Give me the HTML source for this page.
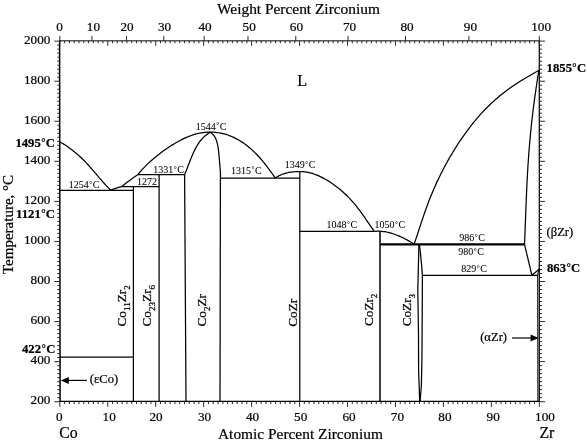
<!DOCTYPE html>
<html><head><meta charset="utf-8"><title>Co-Zr phase diagram</title>
<style>html,body{margin:0;padding:0;background:#fff;}body{width:587px;height:443px;overflow:hidden;}svg{display:block;}</style>
</head><body>
<svg width="587" height="443" viewBox="0 0 587 443"><g stroke="#000" fill="none" stroke-linecap="butt"><path d="M59.6,40.35L60.1,402" stroke-width="1.5"/><path d="M60,40.85H539.3" stroke-width="1.0"/><path d="M539.3,40.35V402" stroke-width="1.25"/><path d="M60,401.4H539.3" stroke-width="1.2"/><path d="M54.3,401.69H60 M539.3,401.69H545 M57.2,397.68H60 M539.3,397.68H542.1 M57.2,393.68H60 M539.3,393.68H542.1 M57.2,389.67H60 M539.3,389.67H542.1 M57.2,385.67H60 M539.3,385.67H542.1 M57.2,381.66H60 M539.3,381.66H542.1 M57.2,377.65H60 M539.3,377.65H542.1 M57.2,373.65H60 M539.3,373.65H542.1 M57.2,369.64H60 M539.3,369.64H542.1 M57.2,365.64H60 M539.3,365.64H542.1 M54.3,361.63H60 M539.3,361.63H545 M57.2,357.62H60 M539.3,357.62H542.1 M57.2,353.62H60 M539.3,353.62H542.1 M57.2,349.61H60 M539.3,349.61H542.1 M57.2,345.61H60 M539.3,345.61H542.1 M57.2,341.6H60 M539.3,341.6H542.1 M57.2,337.59H60 M539.3,337.59H542.1 M57.2,333.59H60 M539.3,333.59H542.1 M57.2,329.58H60 M539.3,329.58H542.1 M57.2,325.58H60 M539.3,325.58H542.1 M54.3,321.57H60 M539.3,321.57H545 M57.2,317.56H60 M539.3,317.56H542.1 M57.2,313.56H60 M539.3,313.56H542.1 M57.2,309.55H60 M539.3,309.55H542.1 M57.2,305.55H60 M539.3,305.55H542.1 M57.2,301.54H60 M539.3,301.54H542.1 M57.2,297.53H60 M539.3,297.53H542.1 M57.2,293.53H60 M539.3,293.53H542.1 M57.2,289.52H60 M539.3,289.52H542.1 M57.2,285.52H60 M539.3,285.52H542.1 M54.3,281.51H60 M539.3,281.51H545 M57.2,277.5H60 M539.3,277.5H542.1 M57.2,273.5H60 M539.3,273.5H542.1 M57.2,269.49H60 M539.3,269.49H542.1 M57.2,265.49H60 M539.3,265.49H542.1 M57.2,261.48H60 M539.3,261.48H542.1 M57.2,257.47H60 M539.3,257.47H542.1 M57.2,253.47H60 M539.3,253.47H542.1 M57.2,249.46H60 M539.3,249.46H542.1 M57.2,245.46H60 M539.3,245.46H542.1 M54.3,241.45H60 M539.3,241.45H545 M57.2,237.44H60 M539.3,237.44H542.1 M57.2,233.44H60 M539.3,233.44H542.1 M57.2,229.43H60 M539.3,229.43H542.1 M57.2,225.43H60 M539.3,225.43H542.1 M57.2,221.42H60 M539.3,221.42H542.1 M57.2,217.41H60 M539.3,217.41H542.1 M57.2,213.41H60 M539.3,213.41H542.1 M57.2,209.4H60 M539.3,209.4H542.1 M57.2,205.4H60 M539.3,205.4H542.1 M54.3,201.39H60 M539.3,201.39H545 M57.2,197.38H60 M539.3,197.38H542.1 M57.2,193.38H60 M539.3,193.38H542.1 M57.2,189.37H60 M539.3,189.37H542.1 M57.2,185.37H60 M539.3,185.37H542.1 M57.2,181.36H60 M539.3,181.36H542.1 M57.2,177.35H60 M539.3,177.35H542.1 M57.2,173.35H60 M539.3,173.35H542.1 M57.2,169.34H60 M539.3,169.34H542.1 M57.2,165.34H60 M539.3,165.34H542.1 M54.3,161.33H60 M539.3,161.33H545 M57.2,157.32H60 M539.3,157.32H542.1 M57.2,153.32H60 M539.3,153.32H542.1 M57.2,149.31H60 M539.3,149.31H542.1 M57.2,145.31H60 M539.3,145.31H542.1 M57.2,141.3H60 M539.3,141.3H542.1 M57.2,137.29H60 M539.3,137.29H542.1 M57.2,133.29H60 M539.3,133.29H542.1 M57.2,129.28H60 M539.3,129.28H542.1 M57.2,125.28H60 M539.3,125.28H542.1 M54.3,121.27H60 M539.3,121.27H545 M57.2,117.26H60 M539.3,117.26H542.1 M57.2,113.26H60 M539.3,113.26H542.1 M57.2,109.25H60 M539.3,109.25H542.1 M57.2,105.25H60 M539.3,105.25H542.1 M57.2,101.24H60 M539.3,101.24H542.1 M57.2,97.23H60 M539.3,97.23H542.1 M57.2,93.23H60 M539.3,93.23H542.1 M57.2,89.22H60 M539.3,89.22H542.1 M57.2,85.22H60 M539.3,85.22H542.1 M54.3,81.21H60 M539.3,81.21H545 M57.2,77.2H60 M539.3,77.2H542.1 M57.2,73.2H60 M539.3,73.2H542.1 M57.2,69.19H60 M539.3,69.19H542.1 M57.2,65.19H60 M539.3,65.19H542.1 M57.2,61.18H60 M539.3,61.18H542.1 M57.2,57.17H60 M539.3,57.17H542.1 M57.2,53.17H60 M539.3,53.17H542.1 M57.2,49.16H60 M539.3,49.16H542.1 M57.2,45.16H60 M539.3,45.16H542.1 M54.3,41.15H60 M539.3,41.15H545 M59.8,401.4V406.9 M59.8,40.85V45.85 M64.59,401.4V404.1 M64.59,40.85V43.25 M69.39,401.4V404.1 M69.39,40.85V43.25 M74.19,401.4V404.1 M74.19,40.85V43.25 M78.98,401.4V404.1 M78.98,40.85V43.25 M83.78,401.4V404.1 M83.78,40.85V43.25 M88.57,401.4V404.1 M88.57,40.85V43.25 M93.36,401.4V404.1 M93.36,40.85V43.25 M98.16,401.4V404.1 M98.16,40.85V43.25 M102.95,401.4V404.1 M102.95,40.85V43.25 M107.75,401.4V406.9 M107.75,40.85V45.85 M112.54,401.4V404.1 M112.54,40.85V43.25 M117.34,401.4V404.1 M117.34,40.85V43.25 M122.13,401.4V404.1 M122.13,40.85V43.25 M126.93,401.4V404.1 M126.93,40.85V43.25 M131.72,401.4V404.1 M131.72,40.85V43.25 M136.52,401.4V404.1 M136.52,40.85V43.25 M141.31,401.4V404.1 M141.31,40.85V43.25 M146.11,401.4V404.1 M146.11,40.85V43.25 M150.91,401.4V404.1 M150.91,40.85V43.25 M155.7,401.4V406.9 M155.7,40.85V45.85 M160.5,401.4V404.1 M160.5,40.85V43.25 M165.29,401.4V404.1 M165.29,40.85V43.25 M170.08,401.4V404.1 M170.08,40.85V43.25 M174.88,401.4V404.1 M174.88,40.85V43.25 M179.68,401.4V404.1 M179.68,40.85V43.25 M184.47,401.4V404.1 M184.47,40.85V43.25 M189.26,401.4V404.1 M189.26,40.85V43.25 M194.06,401.4V404.1 M194.06,40.85V43.25 M198.86,401.4V404.1 M198.86,40.85V43.25 M203.65,401.4V406.9 M203.65,40.85V45.85 M208.44,401.4V404.1 M208.44,40.85V43.25 M213.24,401.4V404.1 M213.24,40.85V43.25 M218.03,401.4V404.1 M218.03,40.85V43.25 M222.83,401.4V404.1 M222.83,40.85V43.25 M227.62,401.4V404.1 M227.62,40.85V43.25 M232.42,401.4V404.1 M232.42,40.85V43.25 M237.21,401.4V404.1 M237.21,40.85V43.25 M242.01,401.4V404.1 M242.01,40.85V43.25 M246.81,401.4V404.1 M246.81,40.85V43.25 M251.6,401.4V406.9 M251.6,40.85V45.85 M256.39,401.4V404.1 M256.39,40.85V43.25 M261.19,401.4V404.1 M261.19,40.85V43.25 M265.99,401.4V404.1 M265.99,40.85V43.25 M270.78,401.4V404.1 M270.78,40.85V43.25 M275.57,401.4V404.1 M275.57,40.85V43.25 M280.37,401.4V404.1 M280.37,40.85V43.25 M285.17,401.4V404.1 M285.17,40.85V43.25 M289.96,401.4V404.1 M289.96,40.85V43.25 M294.75,401.4V404.1 M294.75,40.85V43.25 M299.55,401.4V406.9 M299.55,40.85V45.85 M304.34,401.4V404.1 M304.34,40.85V43.25 M309.14,401.4V404.1 M309.14,40.85V43.25 M313.94,401.4V404.1 M313.94,40.85V43.25 M318.73,401.4V404.1 M318.73,40.85V43.25 M323.53,401.4V404.1 M323.53,40.85V43.25 M328.32,401.4V404.1 M328.32,40.85V43.25 M333.12,401.4V404.1 M333.12,40.85V43.25 M337.91,401.4V404.1 M337.91,40.85V43.25 M342.7,401.4V404.1 M342.7,40.85V43.25 M347.5,401.4V406.9 M347.5,40.85V45.85 M352.3,401.4V404.1 M352.3,40.85V43.25 M357.09,401.4V404.1 M357.09,40.85V43.25 M361.88,401.4V404.1 M361.88,40.85V43.25 M366.68,401.4V404.1 M366.68,40.85V43.25 M371.48,401.4V404.1 M371.48,40.85V43.25 M376.27,401.4V404.1 M376.27,40.85V43.25 M381.06,401.4V404.1 M381.06,40.85V43.25 M385.86,401.4V404.1 M385.86,40.85V43.25 M390.66,401.4V404.1 M390.66,40.85V43.25 M395.45,401.4V406.9 M395.45,40.85V45.85 M400.25,401.4V404.1 M400.25,40.85V43.25 M405.04,401.4V404.1 M405.04,40.85V43.25 M409.83,401.4V404.1 M409.83,40.85V43.25 M414.63,401.4V404.1 M414.63,40.85V43.25 M419.43,401.4V404.1 M419.43,40.85V43.25 M424.22,401.4V404.1 M424.22,40.85V43.25 M429.01,401.4V404.1 M429.01,40.85V43.25 M433.81,401.4V404.1 M433.81,40.85V43.25 M438.61,401.4V404.1 M438.61,40.85V43.25 M443.4,401.4V406.9 M443.4,40.85V45.85 M448.19,401.4V404.1 M448.19,40.85V43.25 M452.99,401.4V404.1 M452.99,40.85V43.25 M457.79,401.4V404.1 M457.79,40.85V43.25 M462.58,401.4V404.1 M462.58,40.85V43.25 M467.38,401.4V404.1 M467.38,40.85V43.25 M472.17,401.4V404.1 M472.17,40.85V43.25 M476.97,401.4V404.1 M476.97,40.85V43.25 M481.76,401.4V404.1 M481.76,40.85V43.25 M486.56,401.4V404.1 M486.56,40.85V43.25 M491.35,401.4V406.9 M491.35,40.85V45.85 M496.14,401.4V404.1 M496.14,40.85V43.25 M500.94,401.4V404.1 M500.94,40.85V43.25 M505.74,401.4V404.1 M505.74,40.85V43.25 M510.53,401.4V404.1 M510.53,40.85V43.25 M515.32,401.4V404.1 M515.32,40.85V43.25 M520.12,401.4V404.1 M520.12,40.85V43.25 M524.91,401.4V404.1 M524.91,40.85V43.25 M529.71,401.4V404.1 M529.71,40.85V43.25 M534.5,401.4V404.1 M534.5,40.85V43.25 M539.3,401.4V406.9 M539.3,40.85V45.85 M59.8,40.85V35.85 M91.91,40.85V35.85 M126.47,40.85V35.85 M163.77,40.85V35.85 M204.15,40.85V35.85 M247.99,40.85V35.85 M295.78,40.85V35.85 M348.07,40.85V35.85 M405.51,40.85V35.85 M468.93,40.85V35.85 M539.3,40.85V35.85" stroke-width="0.95" stroke="#222"/></g><g stroke="#000" fill="none" stroke-linejoin="round"><path d="M60.2,142 L61.74,142.92 L63.27,143.87 L64.79,144.84 L66.29,145.83 L67.78,146.85 L69.25,147.89 L70.7,148.96 L72.14,150.05 L73.55,151.16 L74.95,152.3 L76.33,153.45 L77.7,154.63 L79.04,155.83 L80.37,157.05 L81.68,158.29 L82.97,159.54 L84.24,160.81 L85.5,162.1 L86.74,163.41 L87.97,164.72 L89.19,166.05 L90.39,167.39 L91.59,168.74 L92.77,170.1 L93.95,171.46 L95.12,172.83 L96.29,174.2 L97.46,175.58 L98.62,176.95 L99.79,178.32 L100.96,179.69 L102.14,181.05 L103.32,182.4 L104.52,183.74 L105.74,185.07 L106.97,186.38 L108.22,187.68 L109.5,188.95 L110.8,190.2" stroke-width="1.25"/><path d="M110.8,190.2 C111.5,189.93 113.2,189.2 115,188.6 C116.8,188 120.5,186.93 121.6,186.6" stroke-width="1.25"/><path d="M121.6,186.6 C122.5,185.88 125.33,183.58 127,182.3 C128.67,181.02 129.77,180.2 131.6,178.9 C133.43,177.6 136.93,175.23 138,174.5" stroke-width="1.25"/><path d="M138,174.5 L139.12,173.11 L140.27,171.75 L141.43,170.42 L142.61,169.11 L143.81,167.83 L145.03,166.57 L146.26,165.33 L147.51,164.12 L148.78,162.92 L150.06,161.74 L151.36,160.58 L152.67,159.43 L154,158.3 L155.34,157.18 L156.7,156.08 L158.07,154.99 L159.45,153.91 L160.84,152.85 L162.25,151.8 L163.67,150.77 L165.11,149.75 L166.55,148.74 L168.01,147.75 L169.48,146.78 L170.96,145.82 L172.46,144.88 L173.96,143.96 L175.48,143.05 L177.01,142.17 L178.55,141.31 L180.1,140.48 L181.66,139.67 L183.24,138.89 L184.82,138.14 L186.42,137.43 L188.03,136.74 L189.66,136.09 L191.29,135.48 L192.94,134.92 L194.61,134.4 L196.28,133.92 L197.97,133.49 L199.67,133.12 L201.39,132.81 L203.12,132.55 L204.87,132.36 L206.63,132.23 L208.41,132.18 L210.2,132.2" stroke-width="1.25"/><path d="M210.2,132.2 L211.91,132.18 L213.62,132.23 L215.32,132.35 L217.01,132.52 L218.69,132.75 L220.35,133.03 L222.01,133.38 L223.65,133.77 L225.27,134.22 L226.89,134.72 L228.48,135.27 L230.06,135.86 L231.62,136.5 L233.16,137.18 L234.68,137.9 L236.19,138.67 L237.67,139.47 L239.14,140.32 L240.58,141.19 L242.01,142.11 L243.41,143.05 L244.79,144.03 L246.15,145.04 L247.49,146.07 L248.81,147.14 L250.11,148.23 L251.39,149.35 L252.65,150.49 L253.88,151.65 L255.1,152.83 L256.29,154.04 L257.47,155.26 L258.63,156.5 L259.77,157.76 L260.89,159.03 L262,160.32 L263.08,161.62 L264.16,162.93 L265.21,164.26 L266.26,165.59 L267.29,166.94 L268.31,168.29 L269.32,169.65 L270.31,171.01 L271.3,172.38 L272.29,173.76 L273.26,175.14 L274.23,176.52 L275.2,177.9" stroke-width="1.25"/><path d="M275.2,177.9 L276.36,177.18 L277.54,176.51 L278.75,175.88 L279.97,175.3 L281.22,174.77 L282.48,174.28 L283.76,173.83 L285.05,173.43 L286.36,173.07 L287.68,172.75 L289,172.47 L290.34,172.24 L291.68,172.04 L293.03,171.87 L294.38,171.75 L295.74,171.66 L297.09,171.6 L298.45,171.59 L299.8,171.6" stroke-width="1.25"/><path d="M299.8,171.6 L301.52,171.6 L303.23,171.68 L304.91,171.85 L306.58,172.09 L308.22,172.4 L309.85,172.77 L311.47,173.2 L313.06,173.69 L314.64,174.23 L316.21,174.81 L317.76,175.44 L319.29,176.12 L320.81,176.83 L322.32,177.58 L323.81,178.37 L325.28,179.18 L326.74,180.03 L328.19,180.9 L329.62,181.8 L331.03,182.73 L332.43,183.68 L333.81,184.65 L335.17,185.65 L336.52,186.66 L337.85,187.7 L339.17,188.76 L340.47,189.83 L341.75,190.93 L343.01,192.04 L344.25,193.17 L345.48,194.32 L346.69,195.49 L347.88,196.67 L349.05,197.87 L350.21,199.08 L351.35,200.32 L352.47,201.56 L353.57,202.83 L354.66,204.11 L355.73,205.4 L356.78,206.71 L357.82,208.03 L358.85,209.36 L359.86,210.71 L360.86,212.07 L361.85,213.44 L362.83,214.81 L363.8,216.2 L364.76,217.59 L365.72,218.99 L366.67,220.39 L367.62,221.79 L368.57,223.19 L369.52,224.58 L370.48,225.97 L371.44,227.35 L372.41,228.72 L373.4,230.07 L374.4,231.4" stroke-width="1.25"/><path d="M374.4,231.4 L375.88,231.29 L377.36,231.23 L378.82,231.23 L380.29,231.28 L381.74,231.38 L383.19,231.53 L384.63,231.72 L386.07,231.96 L387.5,232.24 L388.92,232.56 L390.33,232.92 L391.73,233.32 L393.13,233.76 L394.51,234.22 L395.89,234.72 L397.26,235.25 L398.62,235.81 L399.97,236.4 L401.31,237.01 L402.64,237.64 L403.96,238.3 L405.26,238.97 L406.56,239.67 L407.85,240.37 L409.12,241.1 L410.38,241.83 L411.63,242.58 L412.87,243.34 L414.1,244.1" stroke-width="1.25"/><path d="M414.1,244 L414.94,241.69 L415.76,239.36 L416.56,237.03 L417.35,234.69 L418.12,232.34 L418.9,229.99 L419.67,227.63 L420.44,225.28 L421.21,222.92 L421.99,220.57 L422.77,218.22 L423.57,215.87 L424.37,213.53 L425.19,211.19 L426.02,208.86 L426.86,206.53 L427.72,204.21 L428.59,201.89 L429.49,199.58 L430.39,197.28 L431.32,194.99 L432.26,192.7 L433.22,190.42 L434.2,188.15 L435.2,185.89 L436.22,183.63 L437.25,181.38 L438.31,179.15 L439.38,176.91 L440.47,174.69 L441.58,172.48 L442.71,170.27 L443.86,168.07 L445.02,165.89 L446.2,163.71 L447.4,161.54 L448.62,159.38 L449.85,157.22 L451.11,155.08 L452.38,152.95 L453.67,150.83 L454.97,148.72 L456.3,146.62 L457.64,144.53 L459,142.46 L460.37,140.39 L461.77,138.34 L463.18,136.31 L464.61,134.28 L466.06,132.27 L467.54,130.28 L469.03,128.3 L470.53,126.34 L472.06,124.4 L473.61,122.47 L475.19,120.56 L476.78,118.67 L478.39,116.8 L480.03,114.95 L481.69,113.12 L483.37,111.31 L485.07,109.52 L486.8,107.76 L488.55,106.02 L490.33,104.3 L492.13,102.61 L493.95,100.94 L495.8,99.3 L497.67,97.69 L499.57,96.09 L501.48,94.53 L503.43,92.99 L505.39,91.48 L507.38,89.99 L509.39,88.53 L511.42,87.09 L513.47,85.68 L515.54,84.29 L517.62,82.93 L519.72,81.59 L521.84,80.27 L523.96,78.97 L526.09,77.69 L528.23,76.42 L530.37,75.18 L532.51,73.94 L534.65,72.72 L536.78,71.51 L538.9,70.3" stroke-width="1.25"/><path d="M538.9,70.1 L538.33,73.63 L537.77,77.16 L537.22,80.69 L536.68,84.22 L536.16,87.75 L535.64,91.29 L535.14,94.82 L534.65,98.36 L534.17,101.9 L533.71,105.44 L533.26,108.99 L532.82,112.53 L532.4,116.08 L532,119.62 L531.6,123.17 L531.22,126.72 L530.86,130.28 L530.51,133.83 L530.17,137.38 L529.85,140.94 L529.54,144.5 L529.24,148.06 L528.96,151.62 L528.69,155.18 L528.44,158.74 L528.19,162.31 L527.96,165.87 L527.74,169.44 L527.53,173 L527.33,176.57 L527.14,180.14 L526.96,183.71 L526.79,187.28 L526.63,190.85 L526.47,194.42 L526.32,197.99 L526.18,201.56 L526.04,205.14 L525.9,208.71 L525.77,212.28 L525.63,215.85 L525.5,219.42 L525.37,222.99 L525.24,226.56 L525.1,230.13 L524.96,233.7 L524.81,237.27 L524.66,240.83 L524.5,244.4" stroke-width="1.25"/><path d="M524.5,244.4 L531.9,275.3" stroke-width="1.25"/><path d="M531.9,275.3 L539.4,269.0" stroke-width="1.25"/><path d="M539.2,269.2 Q537.9,271.5 537.7,275.4 L537.9,401" stroke-width="1.0"/><path d="M210.2,132.3 L208.7,133.17 L207.27,134.11 L205.91,135.14 L204.62,136.23 L203.39,137.39 L202.21,138.62 L201.1,139.9 L200.04,141.24 L199.03,142.62 L198.07,144.06 L197.15,145.54 L196.27,147.05 L195.43,148.6 L194.62,150.18 L193.85,151.78 L193.11,153.41 L192.39,155.05 L191.69,156.71 L191.01,158.37 L190.35,160.04 L189.7,161.71 L189.06,163.38 L188.43,165.04 L187.8,166.69 L187.17,168.32 L186.54,169.93 L185.9,171.52 L185.26,173.07 L184.6,174.6" stroke-width="1.25"/><path d="M184.6,174.6 L186.0,401" stroke-width="1.25"/><path d="M210.2,132.3 L211.64,133.28 L212.87,134.39 L213.93,135.62 L214.82,136.96 L215.58,138.38 L216.22,139.87 L216.76,141.42 L217.21,143.02 L217.58,144.65 L217.9,146.32 L218.16,148 L218.39,149.7 L218.59,151.39 L218.76,153.09 L218.93,154.79 L219.08,156.47 L219.23,158.14 L219.38,159.81 L219.52,161.46 L219.67,163.09 L219.81,164.72 L219.95,166.35 L220.09,167.97 L220.21,169.59 L220.32,171.22 L220.4,172.87 L220.45,174.54 L220.45,176.25 L220.4,178" stroke-width="1.25"/><path d="M220.4,178.0 L220.0,401" stroke-width="1.25"/><path d="M133.4,186.6 V401" stroke-width="1.25"/><path d="M159.1,174.5 V401" stroke-width="1.25"/><path d="M299.8,171.6 V401" stroke-width="1.25"/><path d="M380.0,231.3 V401" stroke-width="1.5"/><path d="M418.9,244.8 L417.8,290 L418.5,334 L418.6,370 L419.7,401" stroke-width="1.25"/><path d="M419.5,244.8 Q421.5,262 422.4,275.4 L422.1,334 L421.9,360 L421.4,385 L420.1,401" stroke-width="1.25"/><path d="M60,190.4 H133.4" stroke-width="1.25"/><path d="M121.6,186.6 H159.1" stroke-width="1.25"/><path d="M138.0,174.6 H184.6" stroke-width="1.25"/><path d="M220.4,178.0 H299.8" stroke-width="1.25"/><path d="M299.8,231.4 H374.4" stroke-width="1.25"/><path d="M380.1,244.4 H524.5" stroke-width="2.2"/><path d="M422.3,275.4 H537.9" stroke-width="1.25"/><path d="M60,357.1 H133.4" stroke-width="1.35"/></g><g stroke="#000" stroke-width="1.2" fill="none"><path d="M67,380.4 H86.9"/><path d="M512,338.0 H532"/></g><path d="M60.8,380.4 L68.8,376.9 L68.8,383.9 Z" fill="#000"/><path d="M538.7,338.0 L530.6,334.4 L530.6,341.6 Z" fill="#000"/><g font-family="'Liberation Serif', 'Times New Roman', serif" fill="#000" stroke="#000" stroke-width="0.22"><text x="50.4" y="404.29" font-size="13.2" text-anchor="end">200</text><text x="50.4" y="364.23" font-size="13.2" text-anchor="end">400</text><text x="50.4" y="324.17" font-size="13.2" text-anchor="end">600</text><text x="50.4" y="284.11" font-size="13.2" text-anchor="end">800</text><text x="50.4" y="244.05" font-size="13.2" text-anchor="end">1000</text><text x="50.4" y="203.99" font-size="13.2" text-anchor="end">1200</text><text x="50.4" y="163.93" font-size="13.2" text-anchor="end">1400</text><text x="50.4" y="123.87" font-size="13.2" text-anchor="end">1600</text><text x="50.4" y="83.81" font-size="13.2" text-anchor="end">1800</text><text x="50.4" y="43.75" font-size="13.2" text-anchor="end">2000</text><text x="59.4" y="420.6" font-size="13.2" text-anchor="middle">0</text><text x="109.2" y="420.6" font-size="13.2" text-anchor="middle">10</text><text x="156" y="420.6" font-size="13.2" text-anchor="middle">20</text><text x="204.6" y="420.6" font-size="13.2" text-anchor="middle">30</text><text x="252.6" y="420.6" font-size="13.2" text-anchor="middle">40</text><text x="300.7" y="420.6" font-size="13.2" text-anchor="middle">50</text><text x="349" y="420.6" font-size="13.2" text-anchor="middle">60</text><text x="397.4" y="420.6" font-size="13.2" text-anchor="middle">70</text><text x="444.9" y="420.6" font-size="13.2" text-anchor="middle">80</text><text x="493.2" y="420.6" font-size="13.2" text-anchor="middle">90</text><text x="545" y="420.6" font-size="13.2" text-anchor="middle">100</text><text x="59.6" y="30.8" font-size="13.2" text-anchor="middle">0</text><text x="93.4" y="30.8" font-size="13.2" text-anchor="middle">10</text><text x="127" y="30.8" font-size="13.2" text-anchor="middle">20</text><text x="164.6" y="30.8" font-size="13.2" text-anchor="middle">30</text><text x="205" y="30.8" font-size="13.2" text-anchor="middle">40</text><text x="249.2" y="30.8" font-size="13.2" text-anchor="middle">50</text><text x="296.4" y="30.8" font-size="13.2" text-anchor="middle">60</text><text x="349.5" y="30.8" font-size="13.2" text-anchor="middle">70</text><text x="407" y="30.8" font-size="13.2" text-anchor="middle">80</text><text x="470.4" y="30.8" font-size="13.2" text-anchor="middle">90</text><text x="541.1" y="30.8" font-size="13.2" text-anchor="middle">100</text><text x="298.5" y="13.8" font-size="15.4" text-anchor="middle">Weight Percent Zirconium</text><text x="300.5" y="439" font-size="15.4" text-anchor="middle">Atomic Percent Zirconium</text><text x="68.4" y="438.4" font-size="15.8" text-anchor="middle">Co</text><text x="546.9" y="438.4" font-size="15.8" text-anchor="middle">Zr</text><text x="302.2" y="85.6" font-size="16.2" text-anchor="middle">L</text><text x="55" y="146.6" font-size="12.7" text-anchor="end" font-weight="bold">1495<tspan font-size="10.79" dx="0.38" dy="-1.02">&#176;</tspan><tspan dx="0.38" dy="1.02">C</tspan></text><text x="55" y="217.8" font-size="12.7" text-anchor="end" font-weight="bold">1121<tspan font-size="10.79" dx="0.38" dy="-1.02">&#176;</tspan><tspan dx="0.38" dy="1.02">C</tspan></text><text x="55.3" y="352.7" font-size="12.7" text-anchor="end" font-weight="bold">422<tspan font-size="10.79" dx="0.38" dy="-1.02">&#176;</tspan><tspan dx="0.38" dy="1.02">C</tspan></text><text x="546.6" y="72.4" font-size="12.7" text-anchor="start" font-weight="bold">1855<tspan font-size="10.79" dx="0.38" dy="-1.02">&#176;</tspan><tspan dx="0.38" dy="1.02">C</tspan></text><text x="547" y="272.4" font-size="12.7" text-anchor="start" font-weight="bold">863<tspan font-size="10.79" dx="0.38" dy="-1.02">&#176;</tspan><tspan dx="0.38" dy="1.02">C</tspan></text><text x="84" y="188.1" font-size="10.0" text-anchor="middle" stroke-width="0.06">1254<tspan font-size="7.5" dx="0.5" dy="-1.2">&#176;</tspan><tspan dx="0.5" dy="1.2">C</tspan></text><text x="147" y="185" font-size="10.0" text-anchor="middle" stroke-width="0.06">1272</text><text x="168.7" y="172.8" font-size="10.0" text-anchor="middle" stroke-width="0.06">1331<tspan font-size="7.5" dx="0.5" dy="-1.2">&#176;</tspan><tspan dx="0.5" dy="1.2">C</tspan></text><text x="211.1" y="129.5" font-size="10.0" text-anchor="middle" stroke-width="0.06">1544<tspan font-size="7.5" dx="0.5" dy="-1.2">&#176;</tspan><tspan dx="0.5" dy="1.2">C</tspan></text><text x="246.3" y="173.6" font-size="10.0" text-anchor="middle" stroke-width="0.06">1315<tspan font-size="7.5" dx="0.5" dy="-1.2">&#176;</tspan><tspan dx="0.5" dy="1.2">C</tspan></text><text x="300.2" y="167.8" font-size="10.0" text-anchor="middle" stroke-width="0.06">1349<tspan font-size="7.5" dx="0.5" dy="-1.2">&#176;</tspan><tspan dx="0.5" dy="1.2">C</tspan></text><text x="341.8" y="227.8" font-size="10.0" text-anchor="middle" stroke-width="0.06">1048<tspan font-size="7.5" dx="0.5" dy="-1.2">&#176;</tspan><tspan dx="0.5" dy="1.2">C</tspan></text><text x="389.9" y="228" font-size="10.0" text-anchor="middle" stroke-width="0.06">1050<tspan font-size="7.5" dx="0.5" dy="-1.2">&#176;</tspan><tspan dx="0.5" dy="1.2">C</tspan></text><text x="472.2" y="241" font-size="10.0" text-anchor="middle" stroke-width="0.06">986<tspan font-size="7.5" dx="0.5" dy="-1.2">&#176;</tspan><tspan dx="0.5" dy="1.2">C</tspan></text><text x="471.2" y="254.8" font-size="10.0" text-anchor="middle" stroke-width="0.06">980<tspan font-size="7.5" dx="0.5" dy="-1.2">&#176;</tspan><tspan dx="0.5" dy="1.2">C</tspan></text><text x="474.2" y="271.7" font-size="10.0" text-anchor="middle" stroke-width="0.06">829<tspan font-size="7.5" dx="0.5" dy="-1.2">&#176;</tspan><tspan dx="0.5" dy="1.2">C</tspan></text><text x="559.9" y="236.2" font-size="12.6" text-anchor="middle">(&#946;Zr)</text><text x="493.6" y="341.2" font-size="12.6" text-anchor="middle">(&#945;Zr)</text><text x="104" y="383.3" font-size="12.6" text-anchor="middle">(&#949;Co)</text><text transform="translate(126.4,326.5) rotate(-90)" font-size="13.2">Co<tspan font-size="9.2" dy="3.6">11</tspan><tspan dy="-3.6">Zr</tspan><tspan font-size="9.2" dy="3.6">2</tspan></text><text transform="translate(151,326.5) rotate(-90)" font-size="13.2">Co<tspan font-size="9.2" dy="3.6">23</tspan><tspan dy="-3.6">Zr</tspan><tspan font-size="9.2" dy="3.6">6</tspan></text><text transform="translate(206.3,326.5) rotate(-90)" font-size="13.2">Co<tspan font-size="9.2" dy="3.6">2</tspan><tspan dy="-3.6">Zr</tspan></text><text transform="translate(297.2,326.7) rotate(-90)" font-size="13.2">CoZr</text><text transform="translate(373,326) rotate(-90)" font-size="13.2">CoZr<tspan font-size="9.2" dy="3.6">2</tspan></text><text transform="translate(411,326.3) rotate(-90)" font-size="13.2">CoZr<tspan font-size="9.2" dy="3.6">3</tspan></text><text transform="translate(13.4,274) rotate(-90)" font-size="15.0">Temperature, &#176;C</text></g></svg>
</body></html>
